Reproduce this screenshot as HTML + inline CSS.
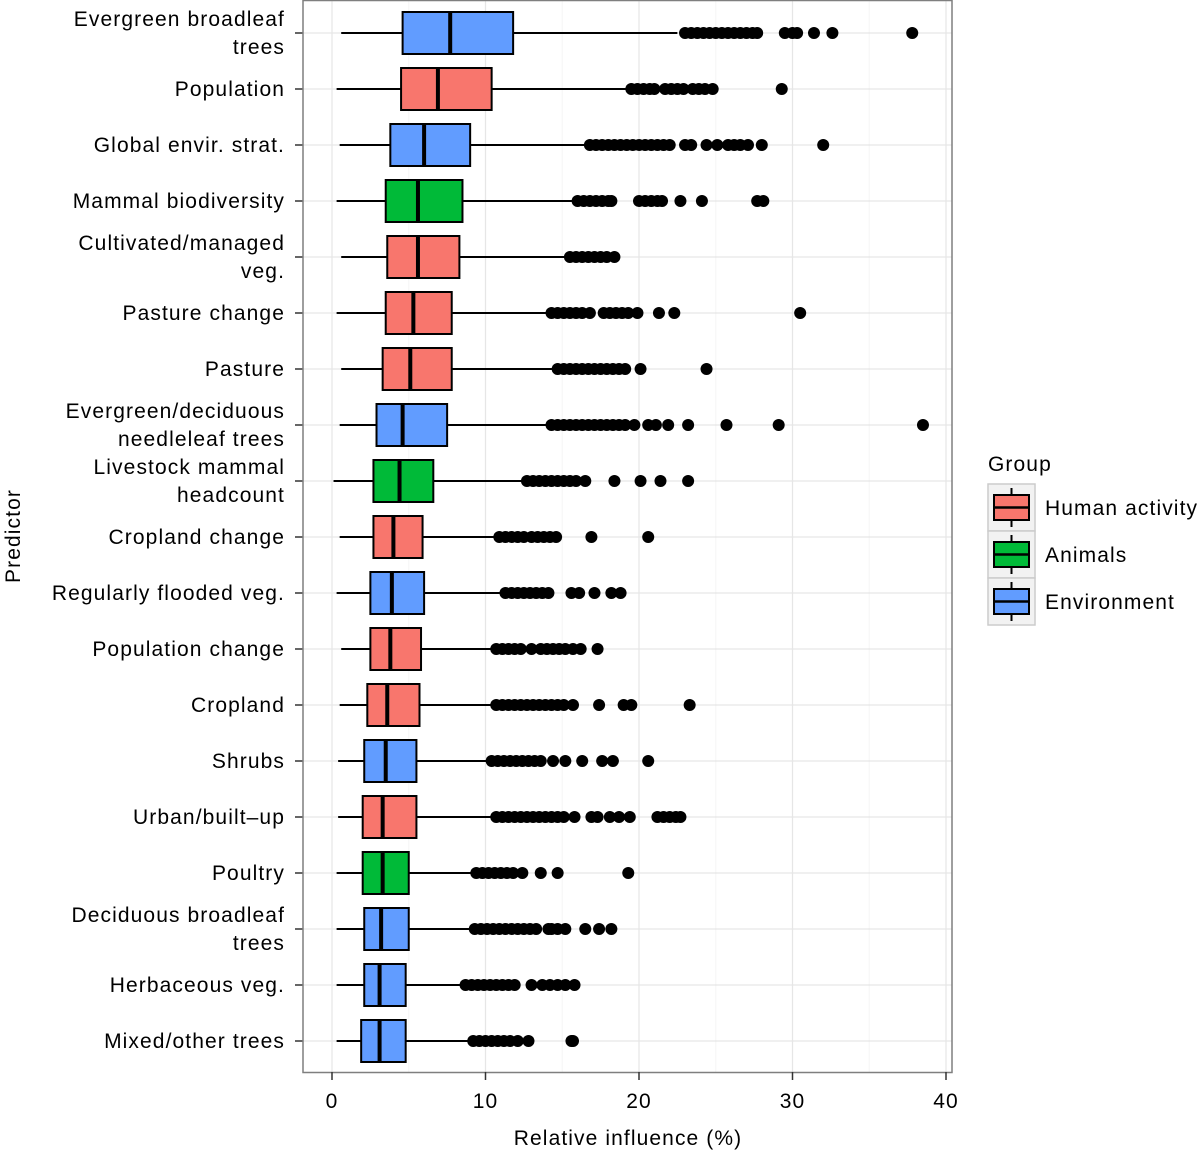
<!DOCTYPE html>
<html><head><meta charset="utf-8">
<style>
body{margin:0;background:#fff;}
svg{display:block;font-family:"Liberation Sans",Arial,sans-serif;}
text{letter-spacing:1.1px;}
</style></head>
<body>
<svg id="chart" width="1200" height="1150" viewBox="0 0 1200 1150" xmlns="http://www.w3.org/2000/svg"></svg>
<script>
const categories = [
  ["Evergreen broadleaf","trees"],["Population"],["Global envir. strat."],["Mammal biodiversity"],
  ["Cultivated/managed","veg."],["Pasture change"],["Pasture"],["Evergreen/deciduous","needleleaf trees"],
  ["Livestock mammal","headcount"],["Cropland change"],["Regularly flooded veg."],["Population change"],
  ["Cropland"],["Shrubs"],["Urban/built\u2013up"],["Poultry"],["Deciduous broadleaf","trees"],
  ["Herbaceous veg."],["Mixed/other trees"]
];
const groups = ["E","H","E","A","H","H","H","E","A","H","E","H","H","E","H","A","E","E","E"];
const whiskerLow  = [0.6,0.3,0.5,0.3,0.6,0.3,0.6,0.5,0.1,0.5,0.3,0.6,0.5,0.4,0.4,0.3,0.3,0.3,0.3];
const q1s         = [4.6,4.5,3.8,3.5,3.6,3.5,3.3,2.9,2.7,2.7,2.5,2.5,2.3,2.1,2.0,2.0,2.1,2.1,1.9];
const medians     = [7.7,6.9,6.0,5.6,5.6,5.3,5.1,4.6,4.4,4.0,3.9,3.8,3.6,3.5,3.3,3.3,3.2,3.1,3.1];
const q3s         = [11.8,10.4,9.0,8.5,8.3,7.8,7.8,7.5,6.6,5.9,6.0,5.8,5.7,5.5,5.5,5.0,5.0,4.8,4.8];
const whiskerHigh = [22.5,19.3,16.7,15.7,15.2,14.1,14.6,14.1,12.5,10.7,11.1,10.6,10.6,10.3,10.6,9.3,9.1,8.5,9.0];
const outliers = [
  [23,23.4,23.8,24.2,24.6,25,25.4,25.8,26.2,26.6,27,27.4,27.7,29.5,30,30.3,31.4,32.6,37.8],
  [19.5,19.9,20.3,20.7,21,21.7,22.1,22.5,22.9,23.5,23.9,24.3,24.8,29.3],
  [16.8,17.2,17.6,18,18.4,18.8,19.2,19.6,20,20.4,20.8,21.2,21.6,22,23,23.4,24.4,25.1,25.8,26.2,26.6,27.1,28,32],
  [16,16.4,16.8,17.2,17.6,18,18.2,20,20.4,20.8,21.2,21.5,22.7,24.1,27.7,28.1],
  [15.5,15.9,16.3,16.7,17.1,17.5,17.9,18.4],
  [14.3,14.7,15.1,15.5,15.9,16.3,16.8,17.7,18.1,18.5,18.9,19.3,19.9,21.3,22.3,30.5],
  [14.7,15.1,15.5,15.9,16.3,16.7,17.1,17.5,17.9,18.3,18.7,19.1,20.1,24.4],
  [14.3,14.7,15.1,15.5,15.9,16.3,16.7,17.1,17.5,17.9,18.3,18.7,19.1,19.7,20.6,21.1,21.9,23.2,25.7,29.1,38.5],
  [12.7,13.1,13.5,13.9,14.3,14.7,15.1,15.5,15.9,16.5,18.4,20.1,21.4,23.2],
  [10.9,11.3,11.7,12.1,12.5,13,13.4,13.8,14.2,14.6,16.9,20.6],
  [11.3,11.7,12.1,12.5,12.9,13.3,13.7,14.1,15.6,16.1,17.1,18.2,18.8],
  [10.7,11.1,11.5,11.9,12.3,13,13.6,14,14.4,14.8,15.2,15.7,16.2,17.3],
  [10.7,11.1,11.5,11.9,12.3,12.7,13.1,13.5,13.9,14.3,14.7,15.1,15.7,17.4,19,19.5,23.3],
  [10.4,10.8,11.2,11.6,12,12.4,12.8,13.2,13.6,14.4,15.2,16.3,17.6,18.3,20.6],
  [10.7,11.1,11.5,11.9,12.3,12.7,13.1,13.5,13.9,14.3,14.7,15.1,15.8,16.9,17.3,18.1,18.7,19.4,21.2,21.6,22,22.4,22.7],
  [9.4,9.8,10.2,10.6,11,11.4,11.8,12.4,13.6,14.7,19.3],
  [9.3,9.7,10.1,10.5,10.9,11.3,11.7,12.1,12.5,12.9,13.3,14.1,14.3,14.7,15.2,16.5,17.4,18.2],
  [8.7,9.1,9.5,9.9,10.3,10.7,11.1,11.5,11.9,13,13.7,14.2,14.7,15.2,15.8],
  [9.2,9.6,10,10.4,10.8,11.2,11.6,12.1,12.8,15.6,15.7]
];
const xTicks = [0,10,20,30,40];
const xMinor = [5,15,25,35];
const groupNames = {H:"Human activity",A:"Animals",E:"Environment"};
const groupColors = {H:"#F8766D",A:"#00BA38",E:"#619CFF"};
const legendOrder = ["H","A","E"];

const NS="http://www.w3.org/2000/svg";
const svg=document.getElementById('chart');
const PL=303,PR=952,PT=0,PB=1072;
const x=v=>332+v*15.35;
const y=i=>33+i*56;
function el(tag,attrs,parent){const e=document.createElementNS(NS,tag);for(const k in attrs)e.setAttribute(k,attrs[k]);(parent||svg).appendChild(e);return e;}

const panel=el('rect',{x:PL,y:PT+0.5,width:PR-PL,height:PB-PT,fill:'#fff',stroke:'none'});


const grid=el('g',{});


xMinor.forEach(v=>el('line',{x1:x(v),x2:x(v),y1:PT,y2:PB,stroke:'#f5f5f5','stroke-width':1},grid));
xTicks.forEach(v=>el('line',{x1:x(v),x2:x(v),y1:PT,y2:PB,stroke:'#e6e6e6','stroke-width':1.2},grid));
categories.forEach((c,i)=>el('line',{x1:PL,x2:PR,y1:y(i),y2:y(i),stroke:'#e6e6e6','stroke-width':1.2},grid));

categories.forEach((c,i)=>{
  const g=el('g',{});
  
  
  const cy=y(i);
  el('line',{x1:x(whiskerLow[i]),x2:x(q1s[i]),y1:cy,y2:cy,stroke:'#000','stroke-width':2},g);
  el('line',{x1:x(q3s[i]),x2:x(whiskerHigh[i]),y1:cy,y2:cy,stroke:'#000','stroke-width':2},g);
  el('rect',{x:x(q1s[i]),y:cy-21,width:x(q3s[i])-x(q1s[i]),height:42,fill:groupColors[groups[i]],stroke:'#000','stroke-width':2},g);
  el('line',{x1:x(medians[i]),x2:x(medians[i]),y1:cy-21,y2:cy+21,stroke:'#000','stroke-width':4},g);
  outliers[i].forEach(v=>{
    const p=el('circle',{cx:x(v),cy:cy,r:6,fill:'#000'},g);
    
    
  });
  const lab=el('text',{x:285,'text-anchor':'end','font-size':21,fill:'#000'});
  
  
  if(c.length===1){el('tspan',{x:285,y:cy+7},lab).textContent=c[0];}
  else{el('tspan',{x:285,y:cy-7},lab).textContent=c[0];el('tspan',{x:285,y:cy+21},lab).textContent=c[1];}
  el('line',{x1:295,x2:303,y1:cy,y2:cy,stroke:'#333','stroke-width':1.5});
});
const border=el('rect',{x:PL,y:PT+0.5,width:PR-PL,height:PB-PT,fill:'none',stroke:'#7f7f7f','stroke-width':1.5});



xTicks.forEach(v=>{
  el('line',{x1:x(v),x2:x(v),y1:PB,y2:PB+8,stroke:'#333','stroke-width':1.5});
  const t=el('text',{x:x(v),y:1108,'text-anchor':'middle','font-size':21,fill:'#000'});
  
  
  t.textContent=v;
});
const xt=el('text',{x:628,y:1145,'text-anchor':'middle','font-size':21,fill:'#000'});


xt.textContent='Relative influence (%)';
const yt=el('text',{x:0,y:0,'text-anchor':'middle','font-size':21,fill:'#000',transform:'translate(20,536) rotate(-90)'});


yt.textContent='Predictor';

const lg=el('g',{});


const lt=el('text',{x:988,y:471,'font-size':21,fill:'#000'},lg);


lt.textContent='Group';
legendOrder.forEach((k,j)=>{
  const ky=484+j*47;
  const e=el('g',{},lg);
  
  
  el('rect',{x:988,y:ky,width:47,height:47,fill:'#f2f2f2',stroke:'#cccccc','stroke-width':1.5},e);
  el('line',{x1:1011.5,x2:1011.5,y1:ky+4,y2:ky+43,stroke:'#000','stroke-width':2},e);
  el('rect',{x:994,y:ky+11,width:35,height:25,fill:groupColors[k],stroke:'#000','stroke-width':2},e);
  el('line',{x1:994,x2:1029,y1:ky+23.5,y2:ky+23.5,stroke:'#000','stroke-width':2.5},e);
  const t=el('text',{x:1045,y:ky+31,'font-size':21,fill:'#000'},e);
  t.textContent=groupNames[k];
});
</script>
</body></html>
